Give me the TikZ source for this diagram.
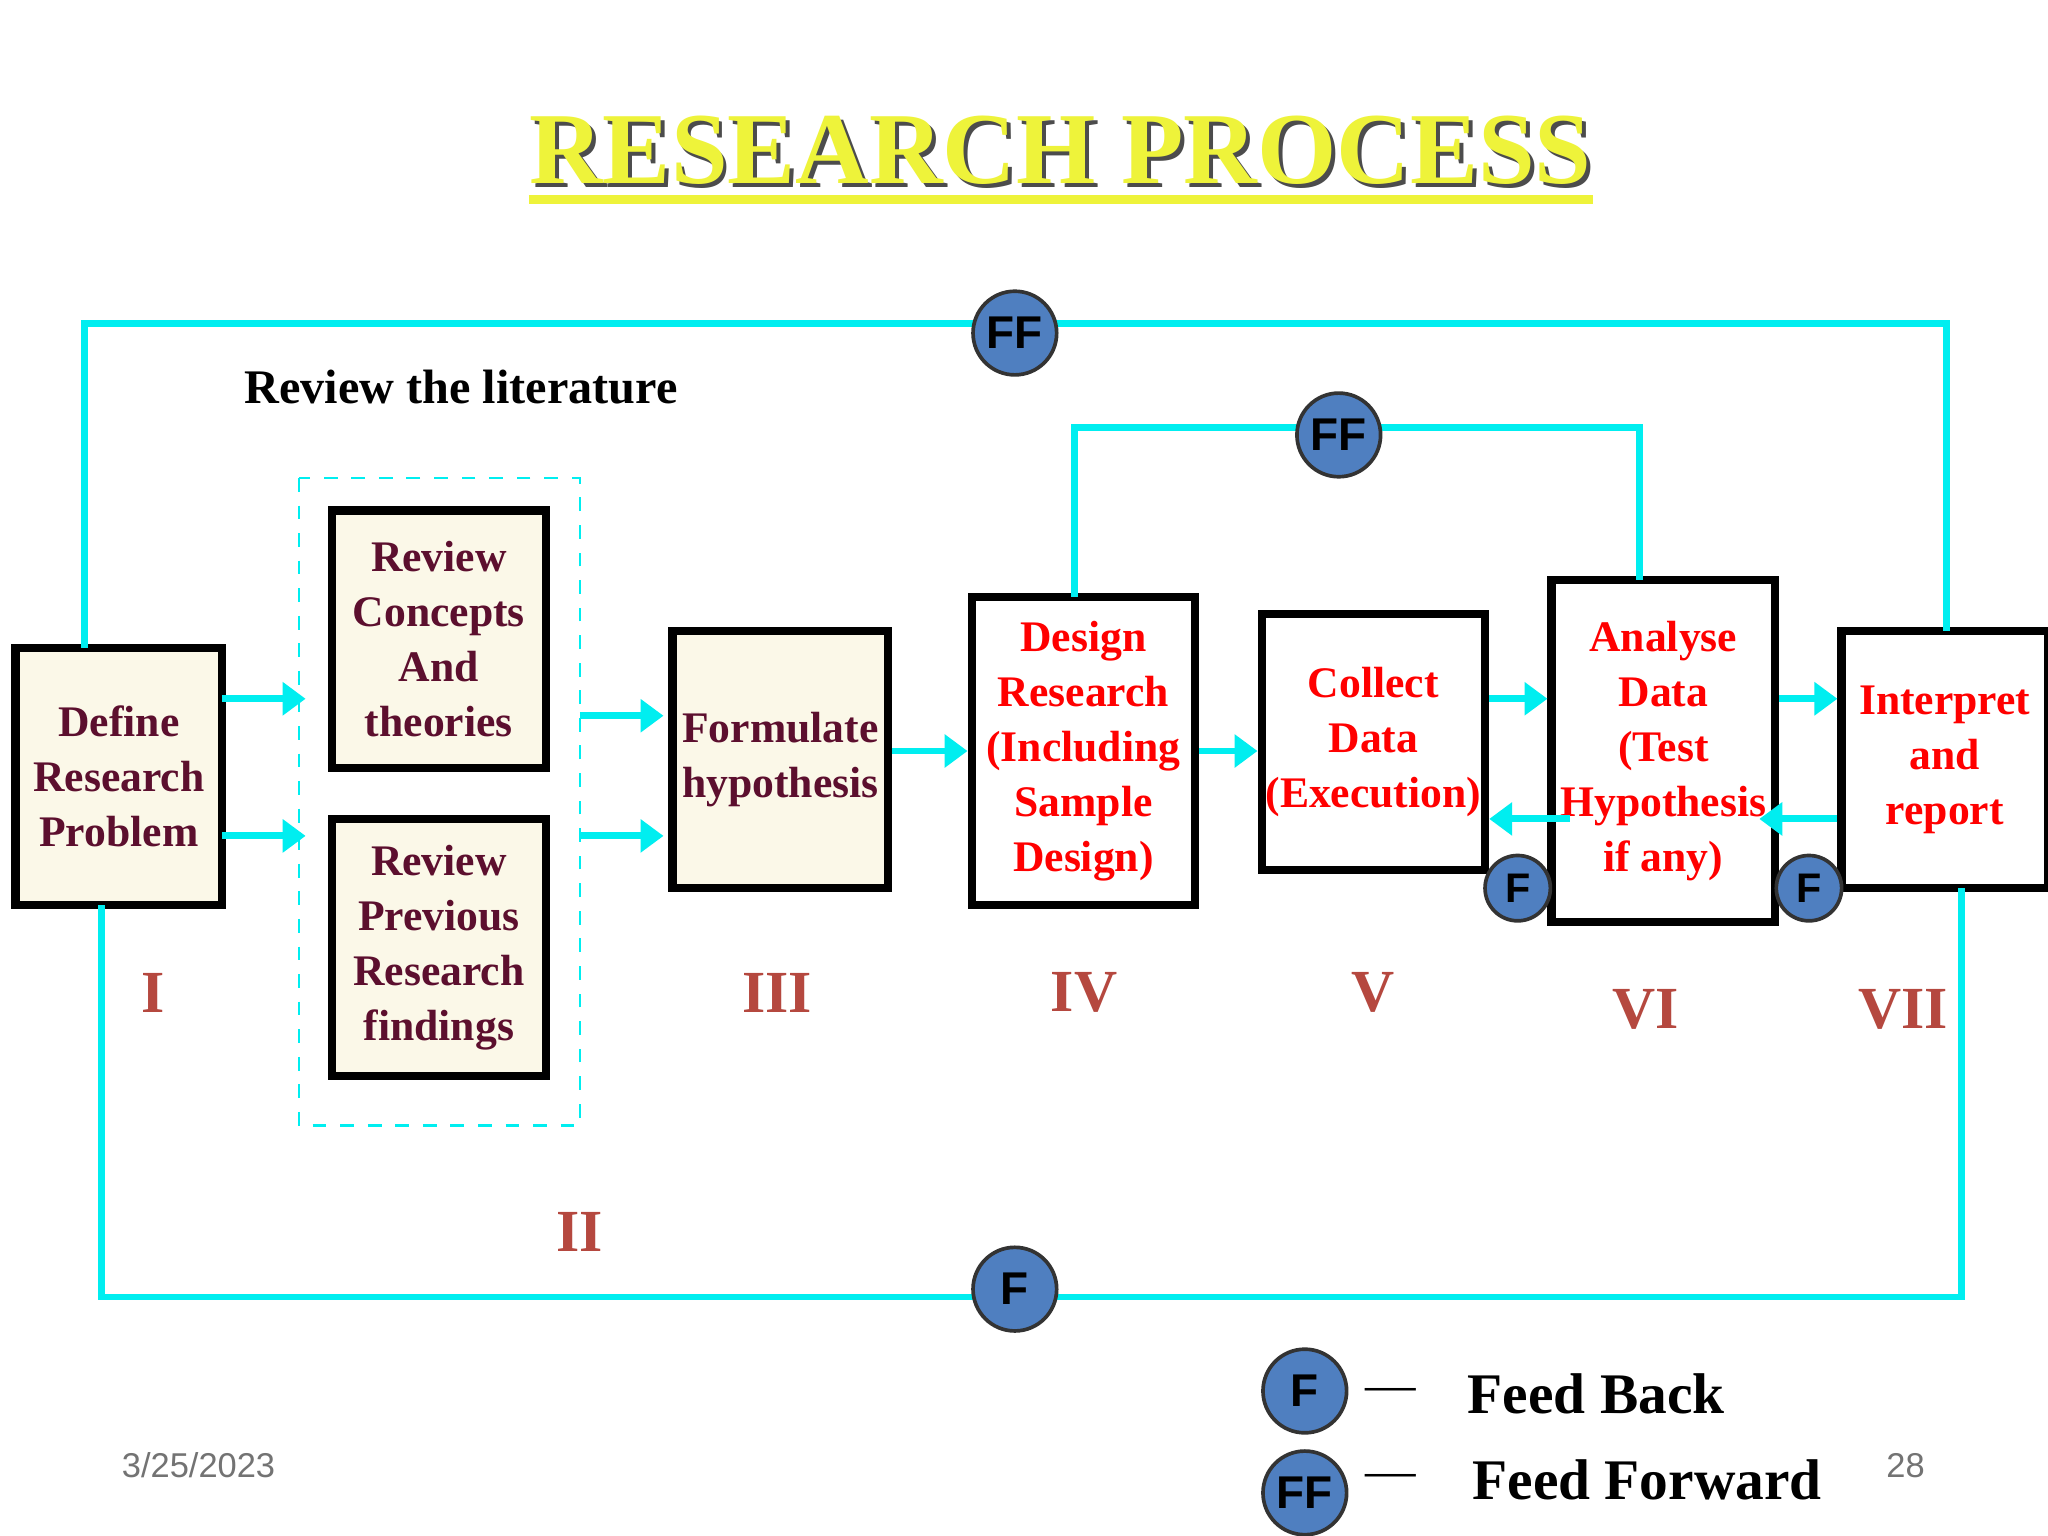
\documentclass[tikz,border=0pt]{standalone}
\usepackage{fontspec}
\setmainfont{Liberation Serif}
\newfontfamily\sansf{Liberation Sans}
\usetikzlibrary{arrows.meta}
\definecolor{cy}{HTML}{00EEF0}
\definecolor{cream}{HTML}{FBF8E8}
\definecolor{maroon}{HTML}{5C0F2E}
\definecolor{rn}{HTML}{B5483F}
\definecolor{cb}{HTML}{4F7FC0}
\definecolor{ttl}{HTML}{EEF33A}
\begin{document}
\begin{tikzpicture}[x=0.01cm,y=-0.01cm,
 box/.style={draw=black,line width=1.8pt,inner sep=0pt,align=center,font=\fontsize{9.5}{12}\selectfont\bfseries},
 cbox/.style={box,fill=cream,text=maroon},
 wbox/.style={box,fill=white,text=red},
 loop/.style={cy,line width=1.5pt},
 arr/.style={cy,line width=1.5pt,-{Triangle[length=5pt,width=7pt]}},
 fc/.style={circle,draw=black!80,line width=0.8pt,fill=cb,inner sep=0pt,minimum size=0.64cm,font=\sansf\fontsize{10}{10}\selectfont\bfseries},
 fs/.style={fc,minimum size=0.5cm,font=\sansf\fontsize{9}{9}\selectfont\bfseries},
 rom/.style={text=rn,font=\fontsize{13}{13}\selectfont\bfseries}]
\useasboundingbox[fill=white] (0,0) rectangle (1568,1176);
% title
\node (tsh) at (815,118) {\fontsize{22.2}{22}\selectfont\bfseries\color{black!70}RESEARCH PROCESS};
\node (t) at (812,115) {\fontsize{22.2}{22}\selectfont\bfseries\color{ttl}RESEARCH PROCESS};
\draw[ttl,line width=2pt] (405,153) -- (1220,153);
% boxes
\node[cbox,minimum width=1.58cm,minimum height=1.97cm] (def) at (91,594.5) {Define\\Research\\Problem};
\draw[cy,dashed,line width=0.6pt] (229,366) rectangle (444,862);
\node[cbox,minimum width=1.64cm,minimum height=1.97cm] (rc) at (336,489.5) {Review\\Concepts\\And\\theories};
\node[cbox,minimum width=1.64cm,minimum height=1.97cm] (rp) at (336,725.5) {Review\\Previous\\Research\\findings};
\node[cbox,minimum width=1.65cm,minimum height=1.97cm] (fh) at (597.5,581.5) {Formulate\\hypothesis};
\node[wbox,minimum width=1.71cm,minimum height=2.36cm] (dr) at (829.5,575) {Design\\Research\\(Including\\Sample\\Design)};
\node[wbox,minimum width=1.71cm,minimum height=1.96cm] (cd) at (1051.5,568) {Collect\\Data\\(Execution)};
\node[wbox,minimum width=1.71cm,minimum height=2.62cm] (ad) at (1273.5,575) {Analyse\\Data\\(Test\\Hypothesis\\if any)};
\node[wbox,minimum width=1.58cm,minimum height=1.97cm] (ir) at (1489,581.5) {Interpret\\and\\report};
% outer loops
\coordinate (o1) at (65,248); \coordinate (o2) at (1490,248);
\draw[loop] (65,496) -- (o1) -- (o2) -- (1490,483);
\node[fc] (ff1) at (777,255) {FF};
\coordinate (b1) at (78,993); \coordinate (b2) at (1502,993);
\draw[loop] (78,693) -- (b1) -- (b2) -- (1502,680);
\node[fc] (f1) at (777,987) {F};
\coordinate (i1) at (823,327); \coordinate (i2) at (1255,327);
\draw[loop] (823,457) -- (i1) -- (i2) -- (1255,444);
\node[fc] (ff2) at (1025,333) {FF};
% arrows
\draw[arr] (170,535) -- (234,535);
\draw[arr] (170,640) -- (234,640);
\draw[arr] (444,548) -- (508,548);
\draw[arr] (444,640) -- (508,640);
\draw[arr] (fh.east|-0,575) -- (dr.west|-0,575);
\draw[arr] (dr.east|-0,575) -- (cd.west|-0,575);
\draw[arr] (cd.east|-0,535) -- (ad.west|-0,535);
\draw[arr] (1202,627) -- (cd.east|-0,627);
\draw[arr] (ad.east|-0,535) -- (ir.west|-0,535);
\draw[arr] (ir.west|-0,627) -- (1347,627);
\node[fs] (f2) at (1162,680) {F};
\node[fs] (f3) at (1385,680) {F};
% numerals
\node[rom] (n1) at (117,760) {I};
\node[rom] (n2) at (444,943) {II};
\node[rom] (n3) at (595,760) {III};
\node[rom] (n4) at (830,760) {IV};
\node[rom] (n5) at (1051,760) {V};
\node[rom] (n6) at (1260,773) {VI};
\node[rom] (n7) at (1457,773) {VII};
\node[font=\fontsize{10.5}{12}\selectfont\bfseries] (rl) at (353,296) {Review the literature};
% legend
\node[fc] (lf) at (999,1065) {F};
\node[fc] (lff) at (999,1143) {FF};
\node[font=\fontsize{11}{12}\selectfont] (d1) at (1065,1068) {---};
\node[font=\fontsize{11}{12}\selectfont] (d2) at (1065,1134) {---};
\node[font=\fontsize{12.5}{13}\selectfont\bfseries] (fb) at (1222,1067) {Feed Back};
\node[font=\fontsize{12.5}{13}\selectfont\bfseries] (ffw) at (1261,1133) {Feed Forward};
\node[text=black!55,font=\sansf\fontsize{7.5}{8}\selectfont] (dt) at (152,1122) {3/25/2023};
\node[text=black!55,font=\sansf\fontsize{7.5}{8}\selectfont] (pg) at (1459,1122) {28};
\end{tikzpicture}
\end{document}
